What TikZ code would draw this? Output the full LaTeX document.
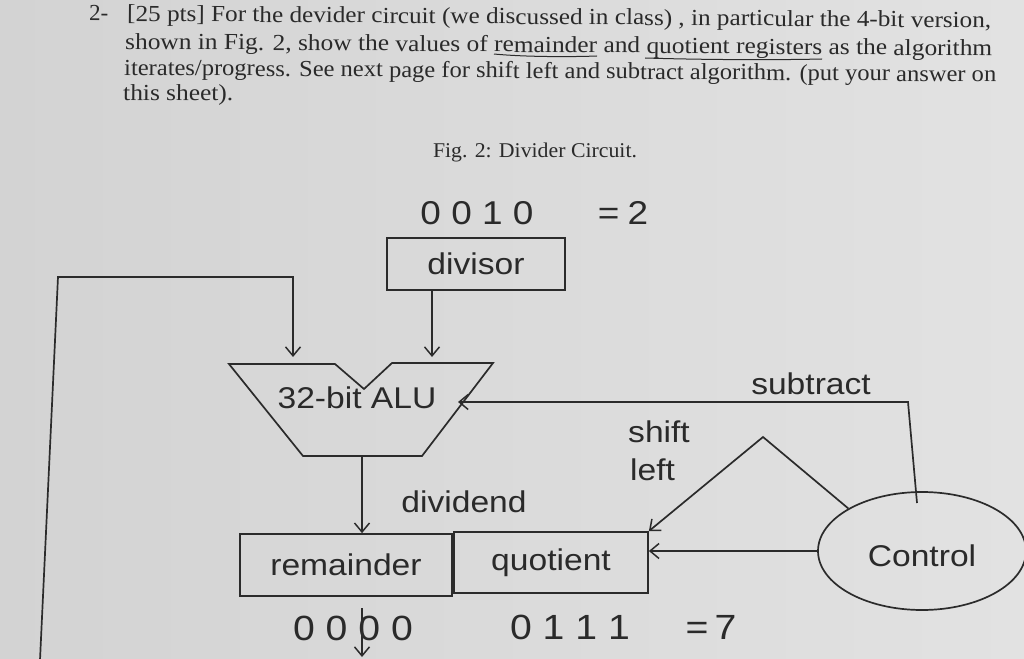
\documentclass[tikz,border=0pt]{standalone}
\usepackage{fontspec}
\setmainfont{Liberation Serif}
\newfontfamily\diag[FakeStretch=1.12]{Liberation Sans}
\usetikzlibrary{shapes.geometric,arrows.meta,calc}
\definecolor{inkc}{HTML}{2B2B2B}
\definecolor{txtc}{HTML}{2A2A2A}
\definecolor{bgl}{HTML}{D3D3D3}
\definecolor{bgr}{HTML}{E2E2E2}
\newcommand\fitline[2]{\resizebox{#1pt}{\height}{#2}}
\begin{document}
\begin{tikzpicture}[x=1pt,y=-1pt,
  ink/.style={draw=inkc,line width=1.7pt},
  arr/.style={ink,-{Straight Barb[length=9pt,width=15pt,line width=1.5pt]}},
  lbl/.style={text=txtc,font=\diag\fontsize{30}{34}\selectfont,inner sep=0pt},
  digs/.style={text=txtc,font=\diag\fontsize{35}{40}\selectfont,inner sep=0pt},
  reg/.style={ink,inner sep=0pt},
  hdr/.style={text=txtc,font=\fontsize{23}{26}\selectfont,inner sep=0pt,anchor=base west,rotate=-0.45},
]
\shade[left color=bgl,right color=bgr] (0,0) rectangle (1024,658);
\useasboundingbox (0,0) rectangle (1024,658);

% header
\node[hdr] (h0) at (89,20) {2-};
\node[hdr] (h1) at (127,21) {\fitline{864}{[25 pts] For the devider circuit (we discussed in class) , in particular the 4-bit version,}};
\node[hdr] (h2) at (125,49) {\fitline{867}{shown in Fig. 2, show the values of remainder and quotient registers as the algorithm}};
\node[hdr] (h3) at (124,75) {\fitline{872}{iterates/progress. See next page for shift left and subtract algorithm. (put your answer on}};
\node[hdr] (h4) at (123,100) {\fitline{110}{this sheet).}};
\draw[inkc,line width=1pt] (494,54) .. controls (525,57) and (570,57) .. (597,56);
\draw[inkc,line width=1pt] (645,58) .. controls (710,60) and (780,60) .. (822,59);

\node[text=txtc,inner sep=0pt] (cap) at (535,152) {\fitline{204}{\fontsize{21}{24}\selectfont Fig. 2: Divider Circuit.}};

% divisor
\node[digs,font=\diag\fontsize{33}{38}\selectfont] (dval) at (477,213) {0 0 1 0};
\node[digs,font=\diag\fontsize{33}{38}\selectfont] (deq) at (623,213) {=\hspace{8pt}2};
\node[reg,lbl,minimum width=178pt,minimum height=52pt] (divisor) at (476,264) {divisor};

% ALU
\coordinate (a1) at (229,364);
\coordinate (a2) at (335,364);
\coordinate (a3) at (364,389);
\coordinate (a4) at (392,363);
\coordinate (a5) at (493,363);
\coordinate (a6) at (422,456);
\coordinate (a7) at (303,456);
\node[lbl] (alu) at (357,398) {32-bit ALU};
\draw[ink,line join=miter] (a1) -- (a2) -- (a3) -- (a4) -- (a5) -- (a6) -- (a7) -- cycle;

% registers
\node[reg,lbl,minimum width=212pt,minimum height=62pt] (remainder) at (346,565) {remainder};
\node[reg,lbl,minimum width=194pt,minimum height=61pt] (quotient) at (551,562.5) {quotient};
\node[digs] (rval) at (353,628) {0 0 0 0};
\node[digs] (qval) at (570,627) {0 1 1 1};
\node[digs] (qeq) at (711,627) {=\hspace{6pt}7};

% control
\node[ellipse,ink,minimum width=208pt,minimum height=118pt,inner sep=0pt] (control) at (922,551) {};
\node[lbl] (ctl) at (922,556) {Control};

% labels
\node[lbl] (sub) at (811,384) {subtract};
\node[lbl,anchor=west] (shift) at (628,432) {shift};
\node[lbl,anchor=west] (left) at (630,470) {left};
\node[lbl] (dividend) at (464,502) {dividend};

% connectors
\coordinate (fb0) at (40,660);
\coordinate (fb1) at (58,277);
\coordinate (fb2) at (293,277);
\coordinate (lt) at (293,357);
\draw[arr,line join=miter] (fb0) -- (fb1) -- (fb2) -- (lt);

\coordinate (dt) at (432,357);
\draw[arr] (divisor.south -| dt) -- (dt);

\coordinate (ab) at (362,456);
\draw[arr] (ab) -- (ab |- remainder.north);

\coordinate (sc) at (917,503);
\coordinate (sk) at (908,402);
\coordinate (sa) at (458,402);
\draw[arr,line join=miter] (sc) -- (sk) -- (sa);

\coordinate (apex) at (763,437);
\draw[arr,line join=miter] (control.150) -- (apex) -- (quotient.north east);

\draw[arr] (control.west) -- (control.west -| quotient.east);

\coordinate (r0) at (362,608);
\coordinate (r1) at (362,657);
\draw[arr] (r0) -- (r1);
\end{tikzpicture}
\end{document}
